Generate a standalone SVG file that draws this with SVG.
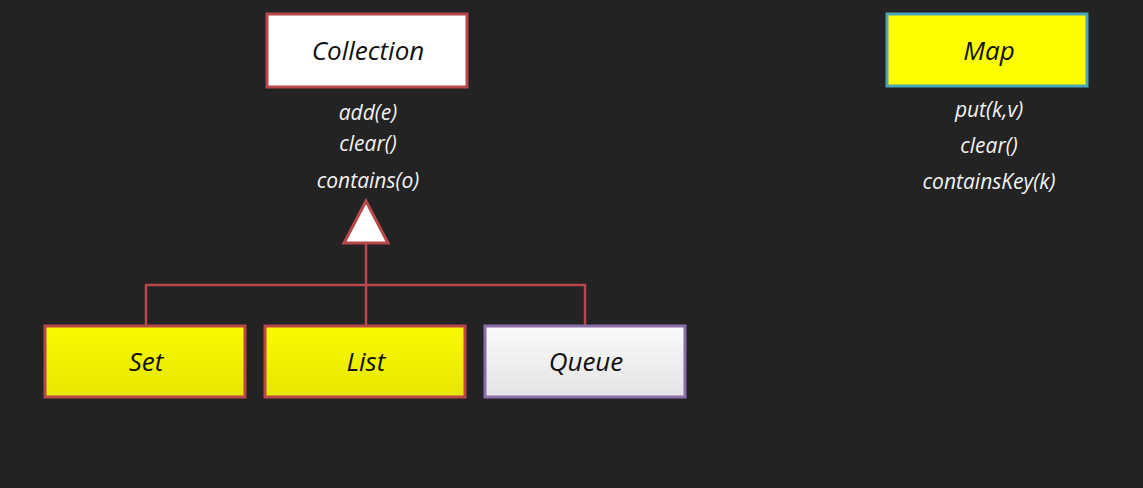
<svg xmlns="http://www.w3.org/2000/svg" width="1143" height="488" viewBox="0 0 1143 488">
<style>
text{font-family:"Open Sans","Liberation Sans",sans-serif;font-style:italic;text-anchor:middle}
.lbl{font-size:26px;fill:#111}
.m{font-size:21px;fill:#f2f2f2}
.red{stroke:#b8474b;stroke-width:3}
.line{stroke:#b8474b;stroke-width:2.5;fill:none}
</style>
<defs>
<linearGradient id="yel" x1="0" y1="0" x2="0" y2="1"><stop offset="0" stop-color="#fafa00"/><stop offset="1" stop-color="#e6e600"/></linearGradient>
<linearGradient id="wht" x1="0" y1="0" x2="0" y2="1"><stop offset="0" stop-color="#fafafa"/><stop offset="1" stop-color="#e4e4e4"/></linearGradient>
</defs>
<rect width="1143" height="488" fill="#232323"/>
<g id="connectors">
<polyline class="line" points="146,325 146,285 585,285 585,325"/>
<line class="line" x1="366" y1="243" x2="366" y2="325"/>
<polygon points="366,201 344,243 388,243" fill="#fff" class="red"/>
</g>
<g id="collection">
<rect x="267" y="14" width="200" height="73" fill="#fff" class="red"/>
<text class="lbl" x="368" y="60">Collection</text>
<text class="m" x="368" y="120">add(e)</text>
<text class="m" x="368" y="151">clear()</text>
<text class="m" x="368" y="188">contains(o)</text>
</g>
<g id="set"><rect x="45" y="326" width="200" height="71" fill="url(#yel)" class="red"/><text class="lbl" x="146" y="371">Set</text></g>
<g id="list"><rect x="265" y="326" width="200" height="71" fill="url(#yel)" class="red"/><text class="lbl" x="366" y="371">List</text></g>
<g id="queue"><rect x="485" y="326" width="200" height="71" fill="url(#wht)" stroke="#8a6fa8" stroke-width="3"/><text class="lbl" x="586" y="371">Queue</text></g>
<g id="map">
<rect x="887" y="14" width="200" height="72" fill="#ffff00" stroke="#4aa6b8" stroke-width="3"/>
<text class="lbl" x="989" y="60">Map</text>
<text class="m" x="989" y="117">put(k,v)</text>
<text class="m" x="989" y="153">clear()</text>
<text class="m" x="989" y="189">containsKey(k)</text>
</g>
</svg>
